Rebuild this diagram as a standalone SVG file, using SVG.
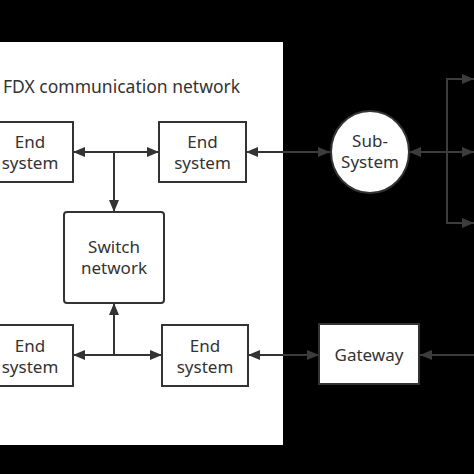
<svg xmlns="http://www.w3.org/2000/svg" width="474" height="474" viewBox="0 0 474 474">
<style>
.box{fill:#fff;stroke:#333;stroke-width:2}
.t{font-family:"Noto Sans","Open Sans","DejaVu Sans",sans-serif;font-size:17px;fill:#333;text-anchor:middle}
.ln{stroke:#333;stroke-width:2;fill:none}
.lg{stroke:#3c3c3c;stroke-width:2;fill:none}
</style>
<defs>
<marker id="ah" viewBox="0 0 12 10" refX="12" refY="5" markerWidth="12" markerHeight="10" markerUnits="userSpaceOnUse" orient="auto-start-reverse"><path d="M0,0 L12,5 L0,10 Z" fill="#333"/></marker>
<marker id="ag" viewBox="0 0 12 10" refX="12" refY="5" markerWidth="12" markerHeight="10" markerUnits="userSpaceOnUse" orient="auto-start-reverse"><path d="M0,0 L12,5 L0,10 Z" fill="#3c3c3c"/></marker>
</defs>
<rect x="0" y="0" width="474" height="474" fill="#000"/>
<rect id="panel" x="-2" y="42" width="285" height="403" fill="#fff"/>
<text class="t" x="3" y="93" style="text-anchor:start;font-size:17.5px">FDX communication network</text>
<g id="connectors">
<line class="ln" x1="73" y1="152" x2="159" y2="152" marker-start="url(#ah)" marker-end="url(#ah)"/>
<line class="ln" x1="114" y1="152" x2="114" y2="212" marker-end="url(#ah)"/>
<line class="ln" x1="73" y1="355" x2="162" y2="355" marker-start="url(#ah)" marker-end="url(#ah)"/>
<line class="ln" x1="114" y1="355" x2="114" y2="303" marker-end="url(#ah)"/>
<line class="ln" x1="246" y1="152" x2="283" y2="152" marker-start="url(#ah)"/>
<line class="lg" x1="283" y1="152" x2="330" y2="152" marker-end="url(#ag)"/>
<line class="ln" x1="248" y1="355" x2="283" y2="355" marker-start="url(#ah)"/>
<line class="lg" x1="283" y1="355" x2="319" y2="355" marker-end="url(#ag)"/>
<line class="lg" x1="447" y1="152" x2="409" y2="152" marker-end="url(#ag)"/>
<polyline class="lg" points="474,79 447,79 447,223 474,223"/>
<line class="lg" x1="447" y1="79" x2="474" y2="79" marker-end="url(#ag)"/>
<line class="lg" x1="447" y1="152" x2="474" y2="152" marker-end="url(#ag)"/>
<line class="lg" x1="447" y1="223" x2="474" y2="223" marker-end="url(#ag)"/>
<line class="lg" x1="474" y1="355" x2="420" y2="355" marker-end="url(#ag)"/>
</g>
<g id="es1"><rect class="box" x="-10" y="122" width="83" height="60"/><text class="t" x="30" y="148">End</text><text class="t" x="30" y="169">system</text></g>
<g id="es2"><rect class="box" x="159" y="122" width="87" height="60"/><text class="t" x="202.5" y="148">End</text><text class="t" x="202.5" y="169">system</text></g>
<g id="switch"><rect class="box" x="64" y="212" width="100" height="91" rx="3"/><text class="t" x="114" y="253">Switch</text><text class="t" x="114" y="274">network</text></g>
<g id="es3"><rect class="box" x="-10" y="325" width="83" height="61"/><text class="t" x="30" y="352">End</text><text class="t" x="30" y="373">system</text></g>
<g id="es4"><rect class="box" x="162" y="325" width="86" height="61"/><text class="t" x="205" y="352">End</text><text class="t" x="205" y="373">system</text></g>
<g id="subsystem"><ellipse class="box" cx="370" cy="152" rx="39" ry="41"/><text class="t" x="370" y="147">Sub-</text><text class="t" x="370" y="168">System</text></g>
<g id="gateway"><rect class="box" x="319" y="324" width="100" height="60"/><text class="t" x="369" y="361">Gateway</text></g>
</svg>
